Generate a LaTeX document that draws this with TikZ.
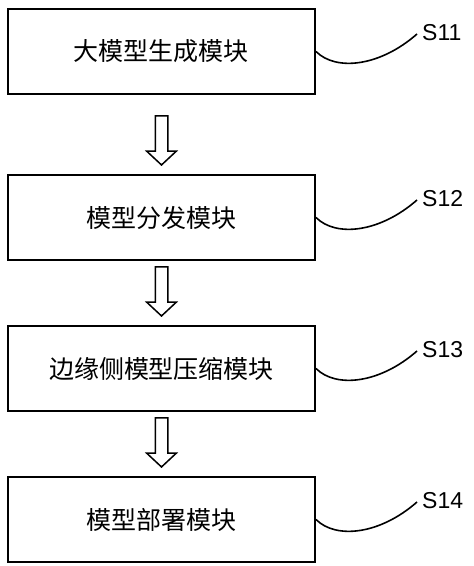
\documentclass[tikz,border=0pt]{standalone}
\usepackage{fontspec}
\newfontfamily\cjk{Noto Sans CJK SC}
\newfontfamily\lab{Liberation Sans}
\usetikzlibrary{shapes.arrows,positioning}

\begin{document}
\begin{tikzpicture}[x=1pt,y=1pt,
block_module/.style ={rectangle, draw=black, line width=2pt, fill=white, minimum width=307pt, minimum height=85pt, font=\cjk\fontsize{25}{30}\selectfont},
block_arrow/.style ={single arrow, draw=black, line width=1.5pt, fill=white, shape border rotate=270, minimum height=49pt, minimum width=28pt, inner sep=5.5pt, single arrow head extend=8.5pt, single arrow tip angle=94},
block_label/.style ={inner sep=0pt, anchor=base west, font=\lab\fontsize{23}{28}\selectfont},
line/.style ={draw, line width=1.6pt}]
  \useasboundingbox (0,0) rectangle (474,566);
  % modules - one per step
  \node [block_module] (s11) at (161.5,514.5) {大模型生成模块};
  \node [block_module, below=79pt of s11] (s12) {模型分发模块};
  \node [block_module, below=64pt of s12] (s13) {边缘侧模型压缩模块};
  \node [block_module, below=64pt of s13] (s14) {模型部署模块};
  % hollow arrows between modules
  \node [block_arrow, above=8pt of s12] (a12) {};
  \node [block_arrow, above=8pt of s13] (a13) {};
  \node [block_arrow, above=8pt of s14] (a14) {};
  % step labels with leader lines
  \foreach \s in {11,12,13,14} {
    \node [block_label] (l\s) at ([shift={(106,11)}]s\s.east) {S\s};
    \path [line] (s\s.east) .. controls +(20,-20) and +(-37,-32.5) .. ([shift={(-5,6.5)}]l\s.base west);
  }
\end{tikzpicture}
\end{document}
